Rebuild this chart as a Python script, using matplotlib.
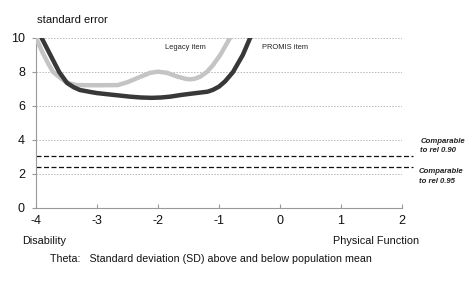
import matplotlib
matplotlib.use("Agg")
import matplotlib.pyplot as plt
import numpy as np

plt.rcParams["font.family"] = ["Liberation Sans", "DejaVu Sans"]

# Data
promis_theta = [-3.95, -3.85, -3.75, -3.62, -3.49, -3.38, -3.28, -3.1, -3.0, -2.8, -2.46, -2.28, -2.1, -1.95, -1.8, -1.62, -1.4, -1.19, -1.1, -1.0, -0.9, -0.77, -0.69, -0.61, -0.55, -0.49, -0.45]
promis_se    = [10.3, 9.6, 8.9, 8.0, 7.35, 7.1, 6.94, 6.82, 6.76, 6.68, 6.55, 6.5, 6.48, 6.5, 6.55, 6.65, 6.75, 6.84, 6.95, 7.14, 7.45, 8.0, 8.5, 9.0, 9.5, 10.0, 10.4]

legacy_theta = [-4.0, -3.9, -3.8, -3.72, -3.6, -3.52, -3.42, -3.33, -3.0, -2.66, -2.5, -2.3, -2.13, -2.0, -1.85, -1.7, -1.55, -1.48, -1.4, -1.31, -1.2, -1.1, -0.98, -0.9, -0.82, -0.78]
legacy_se    = [10.0, 9.2, 8.5, 8.0, 7.65, 7.43, 7.3, 7.23, 7.22, 7.23, 7.4, 7.7, 7.95, 8.02, 7.95, 7.75, 7.6, 7.57, 7.6, 7.72, 8.0, 8.4, 9.0, 9.5, 10.0, 10.3]

rel_levels = [3.08, 2.43]
rel_labels = ["Comparable\nto rel 0.90", "Comparable\nto rel 0.95"]

xticks = [-4, -3, -2, -1, 0, 1, 2]
yticks = [0, 2, 4, 6, 8, 10]

fig = plt.figure(figsize=(4.74, 2.83), dpi=100)
ax = fig.add_axes([36/474, 1-208/283, (402-36)/474, (208-38)/283])
ax.set_xlim(-4, 2)
ax.set_ylim(0, 10)

for y in [2, 4, 6, 8, 10]:
    ax.axhline(y, color="#b8b8b8", lw=0.7, ls=(0, (1.5, 1.5)), zorder=1)

ax.plot(legacy_theta, legacy_se, color="#c4c4c4", lw=3.2, solid_capstyle="butt", zorder=3)
ax.plot(promis_theta, promis_se, color="#383838", lw=3.2, solid_capstyle="butt", zorder=4)

for y in rel_levels:
    ax.plot([-4, 2.18], [y, y], color="#111111", lw=0.9, ls=(0, (4, 2)), clip_on=False, zorder=2)

ax.text(2.3, rel_levels[0] + 0.08, rel_labels[0], fontsize=5.6, style="italic", weight="bold",
        color="#222222", ha="left", va="bottom", linespacing=1.5)
ax.text(2.28, rel_levels[1] - 0.08, rel_labels[1], fontsize=5.6, style="italic", weight="bold",
        color="#222222", ha="left", va="top", linespacing=1.5)

ax.text(-1.89, 9.45, "Legacy item", fontsize=5.4, color="#222222", ha="left", va="center")
ax.text(-0.3, 9.45, "PROMIS item", fontsize=5.4, color="#222222", ha="left", va="center")

for s in ["top", "right"]:
    ax.spines[s].set_visible(False)
for s in ["left", "bottom"]:
    ax.spines[s].set_color("#999999")
    ax.spines[s].set_linewidth(0.8)

ax.set_xticks(xticks)
ax.set_xticklabels([str(t) for t in xticks])
ax.set_yticks(yticks)
ax.set_yticklabels([str(t) for t in yticks])
ax.tick_params(axis="x", direction="in", length=3, color="#999999", labelsize=9, pad=5, labelcolor="#111111")
ax.tick_params(axis="y", direction="out", length=3, color="#999999", labelsize=9, pad=5, labelcolor="#111111")

fig.text(37/474, 1-20/283, "standard error", fontsize=8.1, ha="left", va="center", color="#111111")
fig.text(22/474, 1-241/283, "Disability", fontsize=7.8, ha="left", va="center", color="#111111")
fig.text(419/474, 1-241/283, "Physical Function", fontsize=7.8, ha="right", va="center", color="#111111")
fig.text(50/474, 1-259/283, "Theta:   Standard deviation (SD) above and below population mean",
         fontsize=7.65, ha="left", va="center", color="#111111")

fig.savefig("out.png", dpi=100)
